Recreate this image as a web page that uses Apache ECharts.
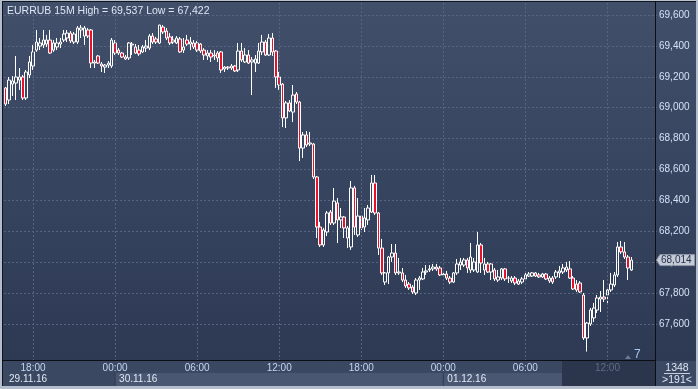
<!DOCTYPE html>
<html>
<head>
<meta charset="utf-8">
<title>EURRUB 15M</title>
<style>
    html, body { margin: 0; padding: 0; background: #36435e; }
    #container { width: 698px; height: 389px; }
</style>
</head>
<body>
<div id="container"></div>
<script src="https://cdn.jsdelivr.net/npm/echarts@6/dist/echarts.min.js"></script>
<script>
    var symbol = 'EURRUB', period = '15M';
    var highPrice = 69.537, lowPrice = 67.422, lastPrice = 68.014;
    var barsTotal = '1348', barsShown = '>191<', shiftBars = '7';

    // quarter-hour slots from 29.11.16 16:00, incl. the empty shift at the right
    var slotCount = 191;
    var timeTicks = ['00:00', '06:00', '12:00', '18:00'];
    // date strip: [label, slot index]
    var dateLabels = [['29.11.16', 0], ['30.11.16', 32], ['01.12.16', 128]];
    var dimFromSlot = 163;

    // [open, close, low, high]
    var ohlc = [
        [69.128,69.024,69.011,69.134],[69.050,69.179,69.024,69.199],[69.153,69.173,69.076,69.205],[69.160,69.199,69.050,69.335],
        [69.179,69.199,69.115,69.257],[69.199,69.063,69.050,69.212],[69.063,69.231,69.050,69.244],[69.212,69.296,69.192,69.335],
        [69.270,69.361,69.244,69.406],[69.373,69.425,69.361,69.503],[69.399,69.419,69.373,69.451],[69.406,69.438,69.386,69.503],
        [69.412,69.438,69.393,69.471],[69.438,69.354,69.348,69.503],[69.373,69.419,69.361,69.438],[69.393,69.419,69.373,69.451],
        [69.412,69.425,69.386,69.451],[69.438,69.477,69.425,69.503],[69.451,69.483,69.425,69.503],[69.483,69.432,69.419,69.496],
        [69.425,69.477,69.412,69.490],[69.425,69.516,69.412,69.529],[69.503,69.516,69.451,69.535],[69.464,69.516,69.406,69.529],
        [69.503,69.464,69.451,69.516],[69.503,69.289,69.257,69.509],[69.289,69.296,69.257,69.309],[69.335,69.289,69.283,69.341],
        [69.283,69.270,69.231,69.296],[69.263,69.276,69.225,69.283],[69.276,69.289,69.257,69.302],[69.270,69.438,69.257,69.451],
        [69.419,69.354,69.341,69.438],[69.373,69.354,69.341,69.386],[69.354,69.328,69.322,69.361],[69.328,69.315,69.309,69.341],
        [69.322,69.419,69.309,69.425],[69.406,69.412,69.341,69.425],[69.393,69.354,69.348,69.412],[69.373,69.348,69.335,69.406],
        [69.361,69.393,69.354,69.406],[69.386,69.399,69.361,69.438],[69.386,69.464,69.373,69.477],[69.464,69.425,69.412,69.483],
        [69.445,69.425,69.412,69.458],[69.419,69.535,69.412,69.537],[69.522,69.490,69.477,69.535],[69.496,69.451,69.438,69.516],
        [69.458,69.419,69.406,69.483],[69.425,69.438,69.412,69.464],[69.419,69.451,69.412,69.464],[69.445,69.361,69.354,69.458],
        [69.373,69.393,69.354,69.451],[69.438,69.412,69.399,69.471],[69.412,69.425,69.373,69.458],[69.419,69.393,69.380,69.438],
        [69.419,69.373,69.361,69.432],[69.412,69.367,69.354,69.419],[69.373,69.341,69.309,69.386],[69.335,69.354,69.309,69.373],
        [69.354,69.328,69.296,69.373],[69.335,69.341,69.309,69.373],[69.354,69.322,69.296,69.367],[69.361,69.244,69.225,69.367],
        [69.251,69.263,69.231,69.270],[69.263,69.257,69.244,69.270],[69.257,69.270,69.244,69.283],[69.270,69.238,69.231,69.276],
        [69.244,69.367,69.231,69.419],[69.367,69.309,69.296,69.419],[69.296,69.341,69.289,69.386],[69.341,69.289,69.283,69.373],
        [69.296,69.309,69.082,69.328],[69.289,69.315,69.231,69.341],[69.289,69.367,69.283,69.419],[69.361,69.425,69.341,69.471],
        [69.425,69.341,69.335,69.438],[69.341,69.451,69.335,69.477],[69.451,69.361,69.335,69.483],[69.367,69.199,69.128,69.373],
        [69.199,69.147,69.115,69.231],[69.153,68.934,68.875,69.160],[68.934,69.031,68.869,69.044],[69.031,68.979,68.972,69.050],
        [68.972,69.082,68.908,69.147],[69.089,69.037,69.024,69.102],[69.037,68.739,68.655,69.044],[68.739,68.824,68.675,68.843],
        [68.824,68.759,68.746,68.849],[68.765,68.772,68.752,68.843],[68.765,68.552,68.539,68.772],[68.552,68.228,68.157,68.558],
        [68.228,68.112,68.099,68.261],[68.112,68.209,68.099,68.222],[68.196,68.319,68.170,68.332],[68.325,68.254,68.241,68.338],
        [68.254,68.396,68.241,68.481],[68.384,68.274,68.125,68.416],[68.274,68.293,68.222,68.351],[68.293,68.222,68.157,68.299],
        [68.157,68.222,68.092,68.235],[68.099,68.481,68.080,68.526],[68.481,68.228,68.177,68.494],[68.177,68.299,68.164,68.416],
        [68.299,68.222,68.209,68.306],[68.228,68.287,68.196,68.351],[68.274,68.351,68.241,68.371],[68.325,68.513,68.319,68.565],
        [68.513,68.319,68.306,68.565],[68.319,68.092,68.047,68.325],[68.092,67.931,67.918,68.151],[67.872,67.931,67.853,67.937],
        [67.931,68.034,67.859,68.041],[68.034,68.060,68.002,68.118],[68.060,67.931,67.918,68.118],[67.931,67.937,67.918,68.028],
        [67.931,67.885,67.872,67.963],[67.885,67.847,67.834,67.918],[67.859,67.834,67.821,67.872],[67.840,67.808,67.795,67.853],
        [67.801,67.885,67.788,67.898],[67.885,67.898,67.821,67.911],[67.892,67.937,67.885,67.963],[67.937,67.944,67.918,67.982],
        [67.950,67.957,67.937,67.982],[67.957,67.969,67.944,67.989],[67.969,67.957,67.944,67.989],[67.963,67.918,67.911,67.976],
        [67.918,67.924,67.905,67.944],[67.924,67.898,67.885,67.944],[67.898,67.872,67.859,67.911],[67.872,67.931,67.866,67.937],
        [67.931,67.989,67.918,68.021],[67.982,68.002,67.950,68.028],[67.982,68.015,67.969,68.028],[68.015,67.963,67.931,68.028],
        [67.950,68.034,67.931,68.125],[67.950,68.002,67.937,68.028],[67.937,68.112,67.931,68.196],[68.112,67.995,67.931,68.125],
        [67.950,67.989,67.918,68.028],[67.989,67.937,67.931,68.002],[67.937,67.989,67.885,67.995],[67.950,67.892,67.879,67.963],
        [67.885,67.905,67.872,67.950],[67.898,67.957,67.885,67.963],[67.957,67.892,67.879,67.963],[67.898,67.898,67.866,67.911],
        [67.879,67.898,67.866,67.911],[67.898,67.866,67.853,67.911],[67.859,67.879,67.853,67.892],[67.872,67.892,67.859,67.905],
        [67.892,67.918,67.885,67.931],[67.911,67.924,67.905,67.937],[67.911,67.931,67.905,67.937],[67.931,67.911,67.905,67.937],
        [67.918,67.905,67.898,67.931],[67.905,67.924,67.898,67.931],[67.924,67.892,67.885,67.931],[67.879,67.898,67.866,67.911],
        [67.898,67.872,67.859,67.911],[67.905,67.937,67.892,67.950],[67.931,67.944,67.898,67.976],[67.937,67.963,67.924,67.989],
        [67.950,67.969,67.937,68.002],[67.957,67.898,67.892,68.008],[67.898,67.827,67.821,67.911],[67.859,67.821,67.808,67.885],
        [67.866,67.808,67.801,67.879],[67.788,67.510,67.497,67.801],[67.510,67.607,67.422,67.614],[67.601,67.691,67.588,67.704],
        [67.640,67.704,67.614,67.737],[67.691,67.769,67.672,67.788],[67.762,67.775,67.678,67.814],[67.775,67.762,67.743,67.885],
        [67.788,67.821,67.737,67.840],[67.821,67.859,67.808,67.931],[67.853,67.918,67.840,67.937],[67.918,68.099,67.905,68.131],
        [68.099,68.067,68.054,68.138],[68.067,68.034,68.021,68.131],[68.034,67.963,67.885,68.047],[67.950,68.014,67.944,68.034]
    ];

    function pad(n) { return n < 10 ? '0' + n : '' + n; }
    var categories = [];
    var t0 = Date.UTC(2016, 10, 29, 16, 0);
    for (var i = 0; i < slotCount; i++) {
        var d = new Date(t0 + i * 15 * 60000);
        categories.push(pad(d.getUTCDate()) + '.' + pad(d.getUTCMonth() + 1) + '.' + String(d.getUTCFullYear()).slice(2) +
            ' ' + pad(d.getUTCHours()) + ':' + pad(d.getUTCMinutes()));
    }
    function isMajor(index, value) {
        return timeTicks.indexOf(String(value).split(' ')[1]) >= 0;
    }
    function price(v) { return v.toFixed(3).replace('.', ','); }

    var font = 'Liberation Sans';
    var gridColor = '#56647f';

    var myChart = echarts.init(document.getElementById('container'));
    var option = {
        animation: false,
        backgroundColor: {
            type: 'linear', x: 0, y: 0, x2: 0, y2: 1,
            colorStops: [{offset: 0, color: '#414f6b'}, {offset: 1, color: '#2c3852'}]
        },
        title: {
            text: symbol + ' ' + period + ' High = ' + price(highPrice) + ' Low = ' + price(lowPrice),
            left: 2, top: 1,
            textStyle: {color: '#dde6f3', fontSize: 10.5, fontWeight: 'normal', fontFamily: font}
        },
        grid: [
            {left: 4, right: 41, top: 3, bottom: 29},
            {left: 4, right: 41, top: 15, bottom: 34}
        ],
        xAxis: [
            {
                type: 'category', gridIndex: 0, data: categories, boundaryGap: true, z: 5,
                axisLine: {show: false},
                axisTick: {show: false},
                axisLabel: {
                    interval: isMajor, margin: 3, fontSize: 10, fontFamily: font,
                    formatter: function (v) { return v.split(' ')[1]; },
                    color: function (v, idx) { return categories.indexOf(v) >= dimFromSlot ? '#5f6d87' : '#c3d5f1'; }
                },
                splitLine: {
                    show: true, interval: isMajor, alignWithLabel: true,
                    lineStyle: {color: gridColor, type: [2, 2], width: 1}
                }
            },
            {
                type: 'category', gridIndex: 1, data: categories, boundaryGap: true, show: false
            }
        ],
        yAxis: [
            {type: 'value', gridIndex: 0, min: 0, max: 1, show: false},
            {
                type: 'value', gridIndex: 1, position: 'right', min: 67.4, max: 69.6, interval: 0.2,
                axisLine: {show: false}, axisTick: {show: false},
                axisLabel: {
                    showMinLabel: false, margin: 2, fontSize: 10, fontFamily: font, color: '#d3e1f6',
                    formatter: function (v) { return price(v); }
                },
                splitLine: {show: true, showMinLine: false, lineStyle: {color: gridColor, type: [2, 2], width: 1}}
            }
        ],
        series: [{
            name: symbol,
            type: 'candlestick',
            xAxisIndex: 1, yAxisIndex: 1,
            barWidth: 3,
            data: ohlc,
            itemStyle: {
                color: 'rgba(0,0,0,0)', color0: '#e8102a',
                borderColor: '#ffffff', borderColor0: '#ffffff', borderWidth: 1
            }
        }]
    };
    myChart.setOption(option);

    // frame, time strip and right-hand labels
    var W = 698, H = 389, plotR = 655.5, axisY = 360.5, rowY = 373;
    var els = [
        {type: 'rect', z: 1, shape: {x: 2, y: 361, width: 654, height: 12}, style: {fill: '#3b4862'}},
        {type: 'rect', z: 1, shape: {x: 2, y: rowY, width: 654, height: 13}, style: {fill: '#4a5773'}},
        {type: 'rect', z: 1, shape: {x: 656, y: 361, width: 40, height: 25}, style: {fill: '#3c4963'}},
        {type: 'rect', z: 1, shape: {x: 562, y: 361, width: 94, height: 25}, style: {fill: '#2b354c'}},
        {type: 'rect', z: 20, shape: {x: 0, y: 0, width: W, height: 1}, style: {fill: '#b9c2cf'}},
        {type: 'rect', z: 20, shape: {x: 0, y: 0, width: 2, height: H}, style: {fill: '#b3bdcb'}},
        {type: 'rect', z: 20, shape: {x: 696, y: 0, width: 2, height: H}, style: {fill: '#b3bdcb'}},
        {type: 'rect', z: 20, shape: {x: 0, y: 386, width: W, height: 3}, style: {fill: '#b3bdcb'}},
        {type: 'line', z: 20, shape: {x1: 2, y1: 1.5, x2: 696, y2: 1.5}, style: {stroke: '#11151d', lineWidth: 1}},
        {type: 'line', z: 20, shape: {x1: 2.5, y1: 1, x2: 2.5, y2: 386}, style: {stroke: '#11151d', lineWidth: 1}},
        {type: 'line', z: 20, shape: {x1: plotR, y1: 1, x2: plotR, y2: 386}, style: {stroke: '#0b0e14', lineWidth: 1}},
        {type: 'line', z: 20, shape: {x1: 2, y1: axisY, x2: plotR, y2: axisY}, style: {stroke: '#0b0e14', lineWidth: 1}},
        {type: 'text', z: 20, style: {text: barsTotal, x: 677, y: 368, fill: '#dde6f3', font: '10.5px "' + font + '"',
            textAlign: 'center', textVerticalAlign: 'middle', align: 'center', verticalAlign: 'middle'}},
        {type: 'line', z: 20, shape: {x1: 664, y1: 373.5, x2: 690, y2: 373.5}, style: {stroke: '#c8d0dc', lineWidth: 1}},
        {type: 'text', z: 20, style: {text: barsShown, x: 677, y: 380, fill: '#dde6f3', font: '10.5px "' + font + '"',
            textAlign: 'center', textVerticalAlign: 'middle', align: 'center', verticalAlign: 'middle'}},
        {type: 'polygon', z: 20, shape: {points: [[625, 359], [628, 355], [631, 359]]}, style: {fill: '#6b7890'}},
        {type: 'text', z: 20, style: {text: shiftBars, x: 634, y: 355, fill: '#a9c8f0', font: '12px "' + font + '"',
            textVerticalAlign: 'middle', verticalAlign: 'middle'}}
    ];
    dateLabels.forEach(function (dl, k) {
        var x = k === 0 ? 9 : myChart.convertToPixel({xAxisIndex: 0}, categories[dl[1]]) + 4;
        if (k > 0) {
            els.push({type: 'line', z: 2, shape: {x1: x - 4, y1: rowY, x2: x - 4, y2: 386}, style: {stroke: '#2f3a51', lineWidth: 1}});
        } else {
            els.push({type: 'rect', z: 1, shape: {x: 2, y: rowY, width: myChart.convertToPixel({xAxisIndex: 0}, categories[dateLabels[1][1]]) - 2, height: 13}, style: {fill: '#3b4862'}});
        }
        els.push({type: 'text', z: 20, style: {text: dl[0], x: x, y: 379.5, fill: '#e2e9f4', font: '10px "' + font + '"',
            textVerticalAlign: 'middle', verticalAlign: 'middle'}});
    });
    var py = myChart.convertToPixel({yAxisIndex: 1}, lastPrice);
    els.push({type: 'polygon', z: 21, shape: {points: [[656.5, py], [660, py - 5.5], [694.5, py - 5.5], [694.5, py + 5.5], [660, py + 5.5]]},
        style: {fill: '#c6ccd5', stroke: '#8e98a8', lineWidth: 1}});
    els.push({type: 'text', z: 22, style: {text: price(lastPrice), x: 661, y: py + 0.5, fill: '#233050', font: '10px "' + font + '"',
        textVerticalAlign: 'middle', verticalAlign: 'middle'}});
    myChart.setOption({graphic: {elements: els}});
</script>
</body>
</html>
